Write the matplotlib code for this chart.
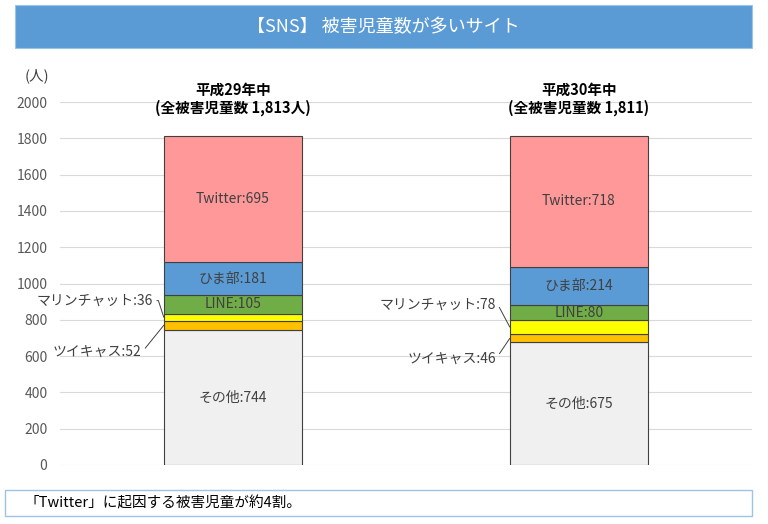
import matplotlib
matplotlib.use("Agg")
import matplotlib.pyplot as plt
from matplotlib.patches import Rectangle
import numpy as np

plt.rcParams['font.family'] = ['Noto Sans CJK JP', 'DejaVu Sans']

years = ["平成29年中\n(全被害児童数 1,813人)", "平成30年中\n(全被害児童数 1,811)"]
sites = ["その他", "ツイキャス", "マリンチャット", "LINE", "ひま部", "Twitter"]
values_h29 = [744, 52, 36, 105, 181, 695]
values_h30 = [675, 46, 78, 80, 214, 718]
colors = ["#F0F0F0", "#FFC000", "#FFFF00", "#70AD47", "#5B9BD5", "#FF9999"]
yticks = list(range(0, 2001, 200))

data = np.array([values_h29, values_h30])

# leader-line styling for the thin segments: (dx pt, dy pt, angle of diagonal)
leader = {
    ("マリンチャット", 0): (-8, 12, 108),
    ("ツイキャス", 0): (-16, -19, 51),
    ("マリンチャット", 1): (-10, 16, 118),
    ("ツイキャス", 1): (-10, -15, 56),
}

fig = plt.figure(figsize=(7.68, 5.24), dpi=100)

# Title banner
fig.patches.append(Rectangle((15/768, 1-48/524), (752-15)/768, 43/524,
                             transform=fig.transFigure, facecolor="#5B9BD5",
                             edgecolor="#9DC3E6", lw=0.8))
fig.text((15+752)/2/768, 1-27/524, "【SNS】 被害児童数が多いサイト", color="white",
         fontsize=13, ha="center", va="center")

# Footer box
fig.patches.append(Rectangle((5/768, 1-516/524), (752-5)/768, 26/524,
                             transform=fig.transFigure, facecolor="white",
                             edgecolor="#9DC3E6", lw=1.0))
fig.text(25/768, 1-503/524, "「Twitter」に起因する被害児童が約4割。", color="black",
         fontsize=10.5, ha="left", va="center")

ax = fig.add_axes([60/768, 1-465/524, (752-60)/768, (465-102)/524])
x = np.arange(len(years))
bottom = np.zeros(len(years))
for i, name in enumerate(sites):
    vals = data[:, i]
    ax.bar(x, vals, bottom=bottom, width=0.4, color=colors[i],
           edgecolor="#404040", linewidth=0.8, zorder=3)
    for j in range(len(years)):
        mid = bottom[j] + vals[j] / 2
        label = f"{name}:{vals[j]}"
        if (name, j) in leader:
            dx, dy, ang = leader[(name, j)]
            ax.annotate(label, xy=(x[j] - 0.2, mid), xycoords="data",
                        xytext=(dx, dy), textcoords="offset points",
                        ha="right", va="center", fontsize=10, color="#404040",
                        arrowprops=dict(arrowstyle="-", color="#404040", lw=0.7,
                                        shrinkA=1, shrinkB=0,
                                        connectionstyle=f"angle,angleA=0,angleB={ang},rad=0"),
                        zorder=5)
        else:
            ax.text(x[j], mid, label, ha="center", va="center", fontsize=10,
                    color="#404040", zorder=4)
    bottom += vals

for j in range(len(years)):
    ax.text(x[j], 2016, years[j], ha="center", va="center", fontsize=10.5,
            fontweight="bold", color="black", linespacing=1.1)

ax.set_xlim(-0.5, 1.5)
ax.set_ylim(0, 2000)
ax.set_yticks(yticks)
ax.set_xticks([])
ax.tick_params(axis="y", length=0, labelsize=10, labelcolor="#595959", pad=9)
ax.grid(axis="y", color="#D9D9D9", lw=0.8, zorder=0)
for s in ax.spines.values():
    s.set_visible(False)
ax.set_facecolor("none")

fig.text(37/768, 1-76/524, "(人)", fontsize=10.5, color="#404040", ha="center", va="center")

fig.savefig("out.png", dpi=100)
